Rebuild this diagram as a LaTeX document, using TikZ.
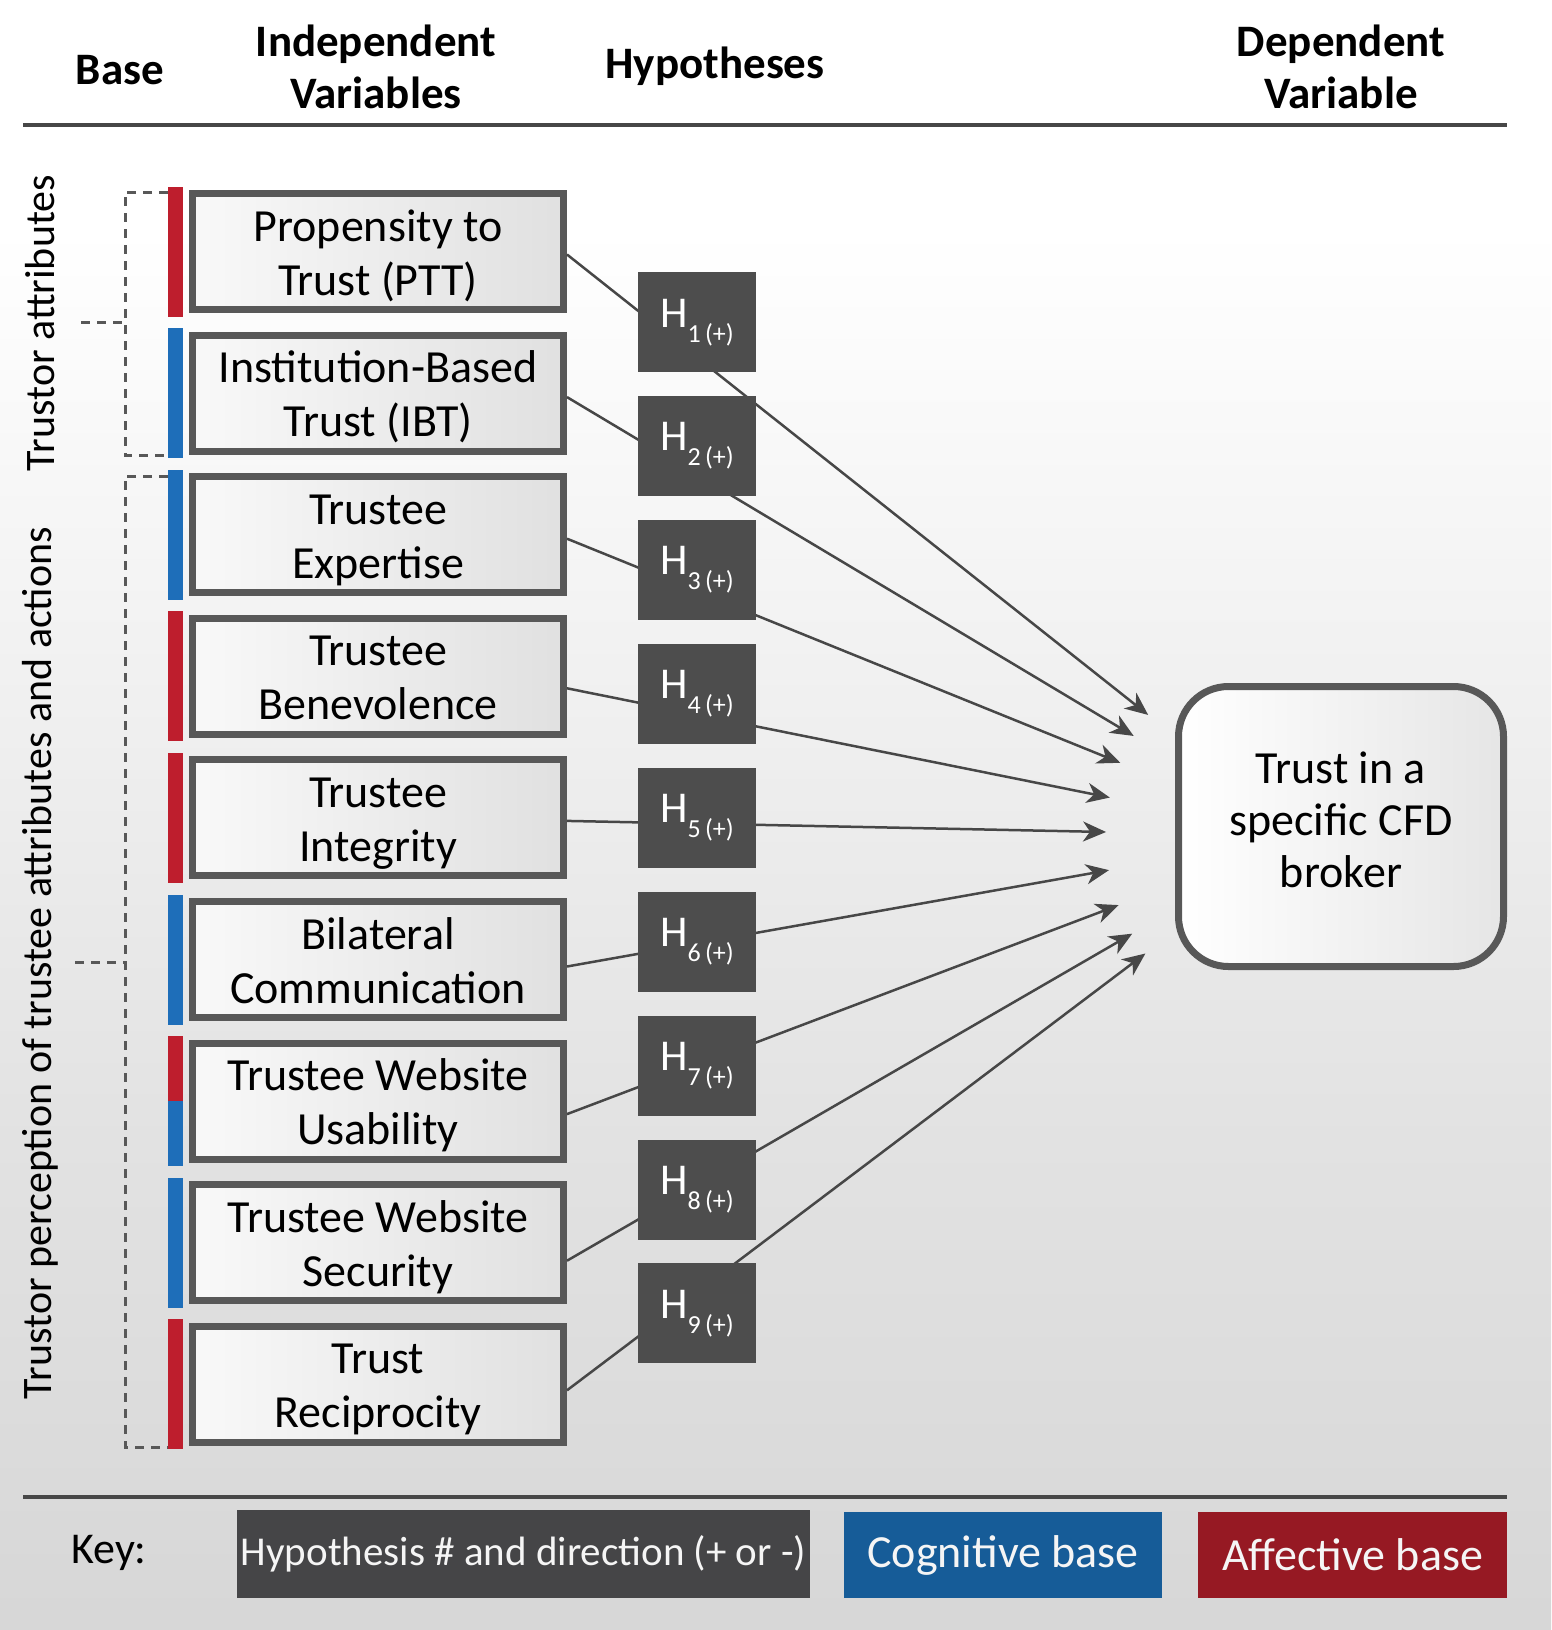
\documentclass[tikz,border=0pt]{standalone}
\usepackage{fontspec}
\setmainfont{Carlito}
\usetikzlibrary{arrows.meta,calc}
\definecolor{affred}{RGB}{190,30,45}
\definecolor{cogblue}{RGB}{30,110,185}
\definecolor{hgray}{RGB}{77,77,77}
\definecolor{bord}{RGB}{88,88,88}
\definecolor{keydark}{RGB}{69,69,71}
\definecolor{keyblue}{RGB}{22,92,152}
\definecolor{keyred}{RGB}{150,25,35}
\definecolor{bgbot}{RGB}{196,196,196}
\definecolor{bgmid}{RGB}{226,226,226}
\pgfdeclareverticalshading{bgshade}{100bp}{color(0bp)=(bgbot); color(40bp)=(bgmid); color(68bp)=(white); color(100bp)=(white)}
\newcommand\myfs[2]{\fontsize{#1}{#2}\selectfont}
\tikzset{
  ivbox/.style={draw=bord, line width=7pt, left color=gray!5, right color=gray!24,
    minimum width=371pt, minimum height=116pt, align=center, font=\myfs{46}{54}, inner sep=0pt,
    text height=88pt, text depth=1pt},
  hbox/.style={fill=hgray, minimum width=118pt, minimum height=100pt, text=white,
    font=\myfs{44}{44}, inner sep=0pt},
  conn/.style={draw=black!72, line width=2.5pt, -{Stealth[length=23pt,width=20pt,inset=7pt]}, shorten >=195pt},
  bracket/.style={draw=bord, line width=3pt, dash pattern=on 9pt off 7pt},
  hdr/.style={font=\bfseries\myfs{45}{52}, align=center},
  rule/.style={line width=4pt, draw=black!72},
  sidelab/.style={rotate=90, font=\myfs{42}{42}},
  keybox/.style={inner sep=0pt, text=white!92!gray, font=\myfs{46}{46}}
}
\newcommand\hlab[1]{H\raisebox{-15pt}{\myfs{26}{26}#1\,(+)}}
\newcommand\barfill[2]{\fill[#1] ($(#2.north west)+(-21.5,-3.5)$) rectangle ($(#2.south west)+(-6.5,3.5)$);}
\begin{document}
\begin{tikzpicture}[x=1pt,y=-1pt]
\useasboundingbox (0,0) rectangle (1551,1630);
\path[shading=bgshade] (0,0) rectangle (1551,1630);

% headers
\node[hdr] (hBase) at (120,70) {Base};
\node[hdr] (hIV) at (376,67) {Independent\\Variables};
\node[hdr] (hHyp) at (715,66) {Hypotheses};
\node[hdr] (hDV) at (1341,67) {Dependent\\Variable};
\draw[rule] (23,125) -- (1507,125);

% independent variable boxes
\node[ivbox] (b1) at (378,251.5) {Propensity to\\Trust (PTT)};
\node[ivbox] (b2) at (378,393.1) {Institution-Based\\Trust (IBT)};
\node[ivbox] (b3) at (378,534.7) {Trustee\\Expertise};
\node[ivbox] (b4) at (378,676.3) {Trustee\\Benevolence};
\node[ivbox] (b5) at (378,817.9) {Trustee\\Integrity};
\node[ivbox] (b6) at (378,959.5) {Bilateral\\Communication};
\node[ivbox] (b7) at (378,1101.1) {Trustee Website\\Usability};
\node[ivbox] (b8) at (378,1242.7) {Trustee Website\\Security};
\node[ivbox] (b9) at (378,1384.3) {Trust\\Reciprocity};

% colour bars
\barfill{affred}{b1}
\barfill{cogblue}{b2}
\barfill{cogblue}{b3}
\barfill{affred}{b4}
\barfill{affred}{b5}
\barfill{cogblue}{b6}
\fill[affred]  ($(b7.north west)+(-21.5,-3.5)$) rectangle ($(b7.west)+(-6.5,0)$);
\fill[cogblue] ($(b7.west)+(-21.5,0)$) rectangle ($(b7.south west)+(-6.5,3.5)$);
\barfill{cogblue}{b8}
\barfill{affred}{b9}

% brackets
\draw[bracket] (168,192) -- (125,192) -- (125,455) -- (168,455);
\draw[bracket] (81,322) -- (125,322);
\draw[bracket] (168,476) -- (125,476) -- (125,1447) -- (168,1447);
\draw[bracket] (75,962) -- (125,962);

% rotated labels
\node[sidelab] (lab1) at (40,323) {Trustor attributes};
\node[sidelab] (lab2) at (40,963) {Trustor perception of trustee attributes and actions};

% dependent variable
\node[draw=bord, line width=7pt, rounded corners=50pt, left color=white, right color=gray!20,
  minimum width=325pt, minimum height=280pt, align=center, font=\myfs{46}{52},
  execute at end node={\rule[-13pt]{0pt}{13pt}}] (t) at (1341,826.5)
  {Trust in a\\specific CFD\\broker};
\coordinate (focus) at (1301,836);

% connectors
\draw[conn] ($(b1.east)+(0,3)$) -- (focus);
\draw[conn] ($(b2.east)+(0,4)$) -- (focus);
\draw[conn] ($(b3.east)+(0,4)$) -- (focus);
\draw[conn] ($(b4.east)+(0,12)$) -- (focus);
\draw[conn] ($(b5.east)+(0,3)$) -- (focus);
\draw[conn] ($(b6.east)+(0,7)$) -- (focus);
\draw[conn] ($(b7.east)+(0,13)$) -- (focus);
\draw[conn] ($(b8.east)+(0,18)$) -- (focus);
\draw[conn] ($(b9.east)+(0,6)$) -- (focus);

% hypothesis boxes
\node[hbox] (h1) at (697,322.2) {\hlab{1}};
\node[hbox] (h2) at (697,446.1) {\hlab{2}};
\node[hbox] (h3) at (697,570.0) {\hlab{3}};
\node[hbox] (h4) at (697,693.9) {\hlab{4}};
\node[hbox] (h5) at (697,817.8) {\hlab{5}};
\node[hbox] (h6) at (697,941.7) {\hlab{6}};
\node[hbox] (h7) at (697,1065.6) {\hlab{7}};
\node[hbox] (h8) at (697,1189.5) {\hlab{8}};
\node[hbox] (h9) at (697,1313.4) {\hlab{9}};

% key
\draw[rule] (23,1497) -- (1507,1497);
\node[font=\myfs{44}{44}] (key) at (109,1553) {Key:};
\node[keybox, fill=keydark, minimum width=573pt, minimum height=88pt, font=\myfs{41}{41}] (k1) at (523.5,1554) {Hypothesis \# and direction (+ or -)};
\node[keybox, fill=keyblue, minimum width=318pt, minimum height=86pt] (k2) at (1003,1555) {Cognitive base};
\node[keybox, fill=keyred, minimum width=309pt, minimum height=86pt] (k3) at (1352.5,1555) {Affective base};
\end{tikzpicture}
\end{document}
